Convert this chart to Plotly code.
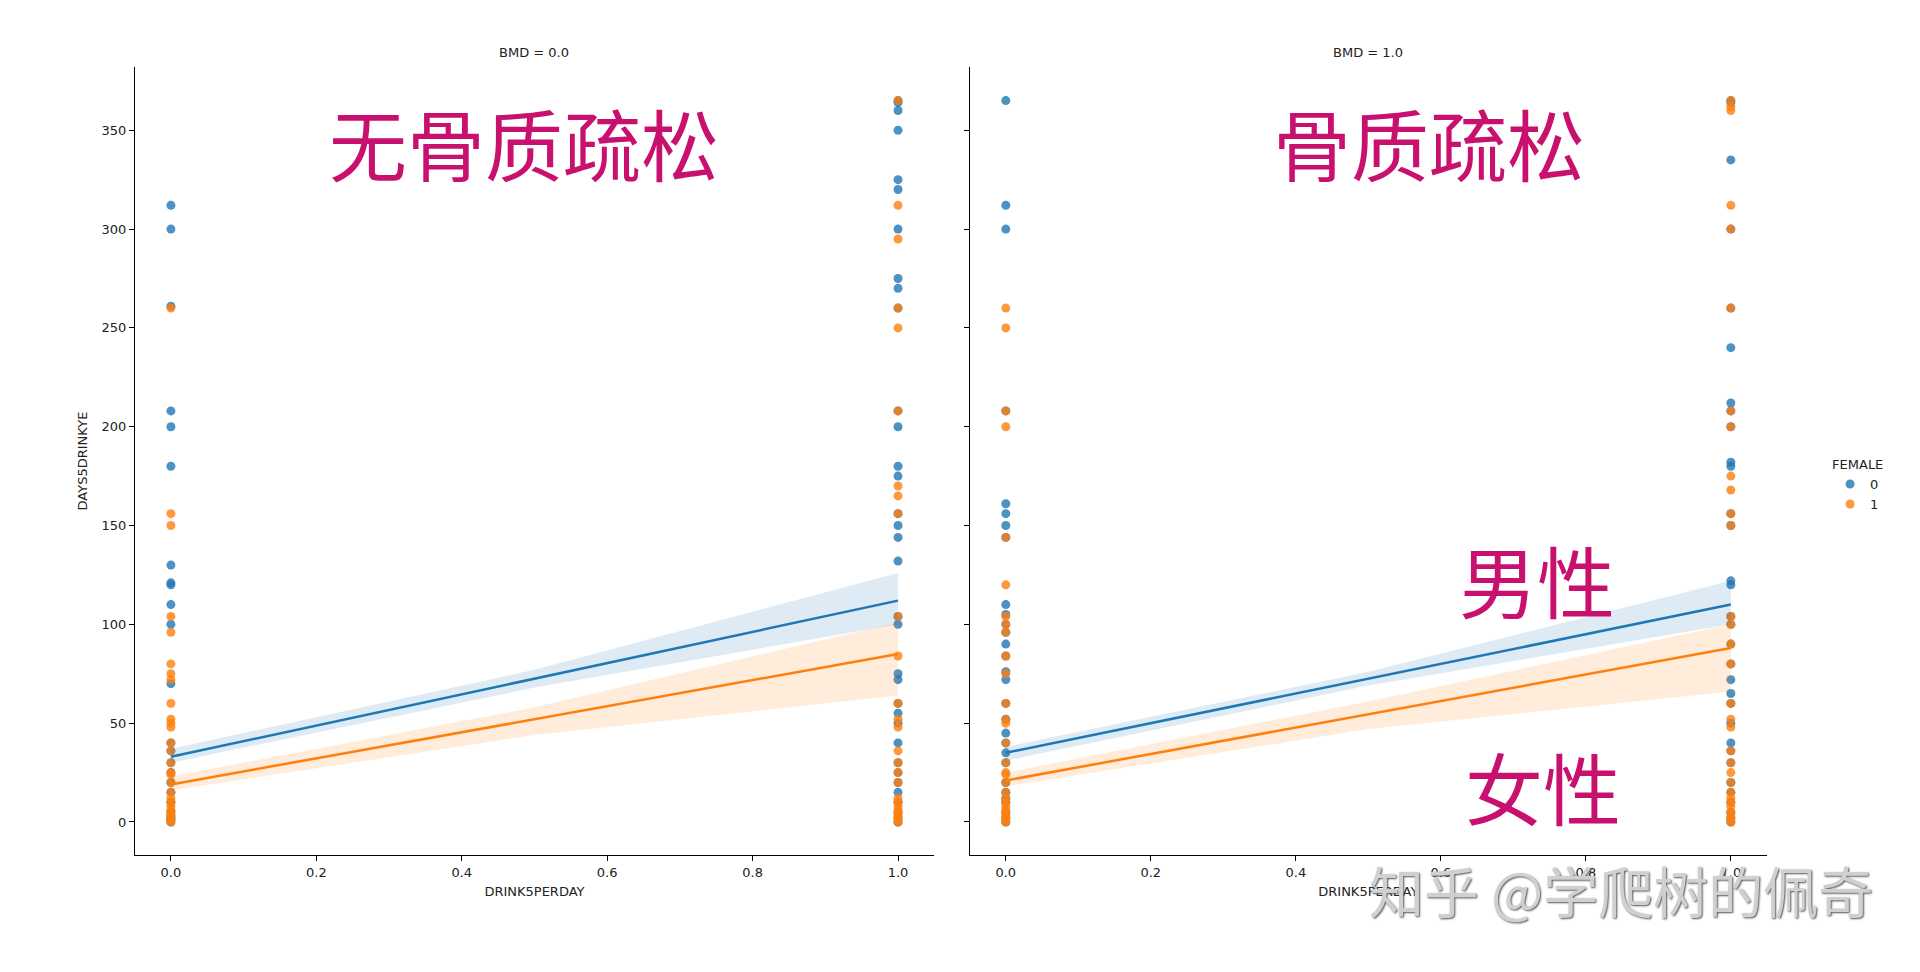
import plotly.graph_objects as go

# ---- data ----
L0_male = [312, 300, 261, 208, 200, 180, 130, 121, 120, 110, 100, 70, 40, 36, 30, 25, 20, 15, 10, 5, 3, 2, 1, 0]
L0_female = [260, 156, 150, 104, 96, 80, 75, 72, 60, 52, 50, 48, 40, 36, 30, 25, 24, 20, 15, 12, 10, 8, 6, 5, 4, 3, 2, 1, 0]
L1_male = [365, 364, 360, 350, 325, 320, 300, 275, 270, 260, 208, 200, 180, 175, 156, 150, 144, 132, 104, 100, 75, 72, 60, 55, 50, 40, 30, 25, 20, 15, 10, 5, 2, 0]
L1_female = [365, 312, 295, 260, 250, 208, 170, 165, 156, 104, 84, 60, 52, 48, 36, 30, 25, 20, 12, 10, 8, 6, 5, 4, 3, 2, 1, 0]
R0_male = [365, 312, 300, 208, 161, 156, 150, 144, 110, 105, 100, 96, 90, 84, 76, 72, 60, 52, 45, 40, 35, 30, 20, 15, 12, 10, 5, 2, 0]
R0_female = [260, 250, 208, 200, 144, 120, 104, 100, 96, 84, 75, 60, 52, 50, 40, 30, 25, 24, 20, 15, 12, 10, 8, 6, 5, 4, 3, 2, 1, 0]
R1_male = [365, 364, 335, 300, 260, 240, 212, 208, 200, 182, 180, 156, 150, 122, 120, 104, 100, 90, 80, 72, 65, 60, 50, 40, 36, 30, 20, 15, 10, 5, 2, 0]
R1_female = [365, 362, 360, 312, 300, 260, 208, 200, 175, 168, 156, 150, 104, 100, 90, 80, 60, 52, 48, 36, 30, 25, 20, 15, 12, 10, 8, 5, 4, 2, 1, 0]

fit_x = [0.0, 0.5, 1.0]
L_male_fit = [33, 72.5, 112]; L_male_lo = [30, 68, 100]; L_male_hi = [37, 77, 126]
L_fem_fit = [19, 52, 85]; L_fem_lo = [16, 44, 64]; L_fem_hi = [23, 58, 101]
R_male_fit = [35, 72.5, 110]; R_male_lo = [31, 69, 100]; R_male_hi = [38, 76, 122]
R_fem_fit = [21, 54.5, 88]; R_fem_lo = [18, 47, 66]; R_fem_hi = [25, 61, 100]

BLUE = "#1f77b4"; ORANGE = "#ff7f0e"
BLUE_BAND = "rgba(31,119,180,0.15)"; ORANGE_BAND = "rgba(255,127,14,0.15)"

fig = go.Figure()

def scatter(x, ys, color, name, xa, ya, show):
    fig.add_trace(go.Scatter(x=[x]*len(ys), y=ys, mode="markers", xaxis=xa, yaxis=ya,
                             marker=dict(color=color, size=9, opacity=0.8),
                             name=name, legendgroup=name, showlegend=show))

def fit(lo, hi, mid, color, band, xa, ya):
    fig.add_trace(go.Scatter(x=fit_x, y=lo, mode="lines", line=dict(width=0), xaxis=xa, yaxis=ya,
                             showlegend=False, hoverinfo="skip"))
    fig.add_trace(go.Scatter(x=fit_x, y=hi, mode="lines", line=dict(width=0), fill="tonexty",
                             fillcolor=band, xaxis=xa, yaxis=ya, showlegend=False, hoverinfo="skip"))
    fig.add_trace(go.Scatter(x=fit_x, y=mid, mode="lines", line=dict(color=color, width=2.5),
                             xaxis=xa, yaxis=ya, showlegend=False))

scatter(0, L0_male, BLUE, "0", "x", "y", True)
scatter(1, L1_male, BLUE, "0", "x", "y", False)
scatter(0, L0_female, ORANGE, "1", "x", "y", True)
scatter(1, L1_female, ORANGE, "1", "x", "y", False)
fit(L_male_lo, L_male_hi, L_male_fit, BLUE, BLUE_BAND, "x", "y")
fit(L_fem_lo, L_fem_hi, L_fem_fit, ORANGE, ORANGE_BAND, "x", "y")

scatter(0, R0_male, BLUE, "0", "x2", "y2", False)
scatter(1, R1_male, BLUE, "0", "x2", "y2", False)
scatter(0, R0_female, ORANGE, "1", "x2", "y2", False)
scatter(1, R1_female, ORANGE, "1", "x2", "y2", False)
fit(R_male_lo, R_male_hi, R_male_fit, BLUE, BLUE_BAND, "x2", "y2")
fit(R_fem_lo, R_fem_hi, R_fem_fit, ORANGE, ORANGE_BAND, "x2", "y2")

ax = dict(showline=True, linecolor="black", linewidth=1, ticks="outside", ticklen=5,
          tickcolor="black", showgrid=False, zeroline=False, mirror=False, automargin=False,
          tickfont=dict(size=13, color="#222"))
xticks = [0, 0.2, 0.4, 0.6, 0.8, 1.0]
xlab = ["0.0", "0.2", "0.4", "0.6", "0.8", "1.0"]
yticks = [0, 50, 100, 150, 200, 250, 300, 350]

fig.update_layout(
    width=1920, height=972, margin=dict(l=0, r=0, t=0, b=0, autoexpand=False),
    plot_bgcolor="white", paper_bgcolor="white",
    font=dict(family="DejaVu Sans", size=13, color="#222"),
    xaxis=dict(ax, domain=[0.0661, 0.4823], range=[-0.0495, 1.0495], tickvals=xticks, ticktext=xlab,
               title=dict(text="DRINK5PERDAY", font=dict(size=13), standoff=8)),
    yaxis=dict(ax, domain=[0.1286, 0.9393], range=[-16.7, 382], tickvals=yticks,
               title=dict(text="DAYS5DRINKYE", font=dict(size=13), standoff=10)),
    xaxis2=dict(ax, domain=[0.501, 0.916], range=[-0.0495, 1.0495], tickvals=xticks, ticktext=xlab,
                anchor="y2", title=dict(text="DRINK5PERDAY", font=dict(size=13), standoff=8)),
    yaxis2=dict(ax, domain=[0.1286, 0.9393], range=[-16.7, 382], tickvals=yticks, showticklabels=False,
                anchor="x2"),
    legend=dict(title=dict(text="FEMALE", font=dict(size=13)), x=0.949, y=0.543, xanchor="left",
                yanchor="top", font=dict(size=13), itemwidth=30, tracegroupgap=0,
                bgcolor="rgba(0,0,0,0)"),
)

MAG = "#C8106E"
big = dict(family="Noto Sans CJK SC", size=78, color=MAG)
fig.add_annotation(text="BMD = 0.0", xref="x domain", yref="paper", x=0.5, y=0.944, showarrow=False,
                   yanchor="bottom", font=dict(size=13))
fig.add_annotation(text="BMD = 1.0", xref="x2 domain", yref="paper", x=0.5, y=0.944, showarrow=False,
                   yanchor="bottom", font=dict(size=13))
fig.add_annotation(text="无骨质疏松", xref="x", yref="y", x=0.486, y=344, showarrow=False, font=big,
                   xanchor="center")
fig.add_annotation(text="骨质疏松", xref="x2", yref="y2", x=0.583, y=344, showarrow=False, font=big,
                   xanchor="center")
fig.add_annotation(text="男性", xref="x2", yref="y2", x=0.733, y=123, showarrow=False, font=big,
                   xanchor="center")
fig.add_annotation(text="女性", xref="x2", yref="y2", x=0.741, y=18, showarrow=False, font=big,
                   xanchor="center")
fig.add_annotation(text="知乎 @学爬树的佩奇", xref="paper", yref="paper", x=0.84, y=1 - 923/972,
                   xanchor="center", showarrow=False,
                   font=dict(family="Noto Sans CJK SC", size=55, color="#d0d0d0",
                             shadow="1px 1px 2px #555"))

fig.write_html("out.html")
